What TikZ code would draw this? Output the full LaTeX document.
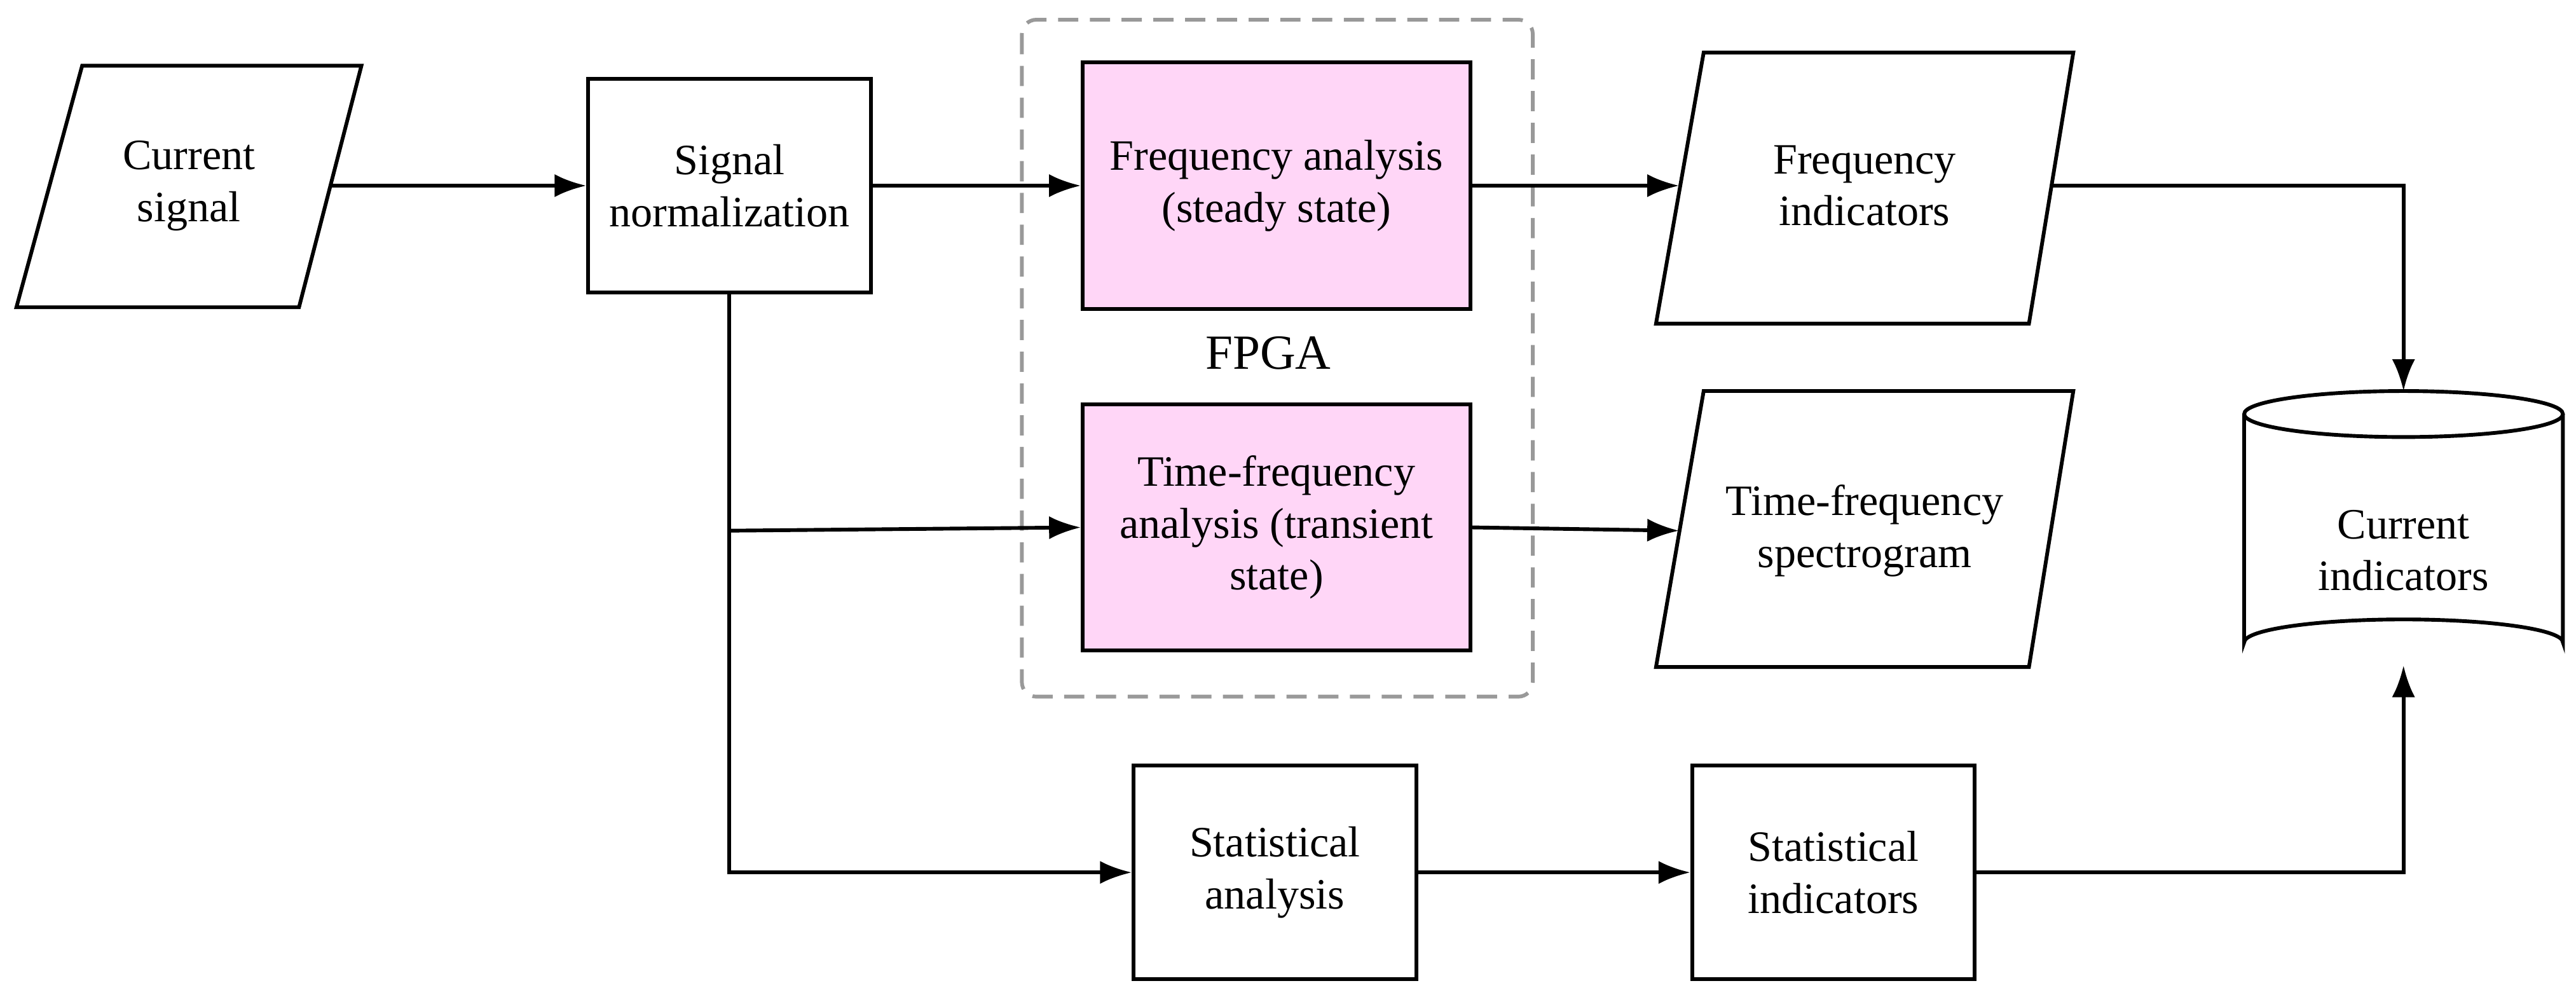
\documentclass[tikz,border=0pt]{standalone}
\usepackage{fontspec}
\setmainfont{Liberation Serif}
\usetikzlibrary{arrows.meta,shapes.geometric}
\definecolor{pinkf}{HTML}{FFD6F7}
\begin{document}
\begin{tikzpicture}[x=0.02cm,y=-0.02cm,
  every node/.style={font=\fontsize{15}{18}\selectfont,align=center},
  box/.style={draw,line width=1.3pt,minimum width=3.44cm,minimum height=2.6cm,inner sep=0pt},
  pbox/.style={box,fill=pinkf,minimum width=4.72cm,minimum height=3cm},
  shp/.style={draw,line width=1.3pt,line join=miter},
  arr/.style={line width=1.3pt,-{Latex[length=11pt,width=8pt]}},
  ln/.style={line width=1.3pt}]
\useasboundingbox (0,0) rectangle (1568,609.5);
% FPGA
\draw[gray!80,dashed,line width=1.3pt,dash pattern=on 7pt off 4pt,rounded corners=5pt] (622,12) rectangle (933,424);
\node (fpga) at (772,215) {\fontsize{17}{20}\selectfont FPGA};
% current signal
\draw[shp] (50,40) -- (220,40) -- (182,187) -- (10,187) -- cycle;
\node (cs) at (115,113) {Current\\signal};
\coordinate (csr) at (201,113);
\node[box] (sn) at (444,113) {Signal\\normalization};
\node[pbox] (fa) at (777,113) {Frequency analysis\\(steady state)};
\node[pbox] (tf) at (777,321) {Time-frequency\\analysis (transient\\state)};
\draw[shp] (1037,32) -- (1262,32) -- (1235,197) -- (1008,197) -- cycle;
\node (fi) at (1135,113) {Frequency\\indicators};
\coordinate (fil) at (1022,113);
\coordinate (fir) at (1249,113);
\draw[shp] (1037,238) -- (1262,238) -- (1235,406) -- (1008,406) -- cycle;
\node (ts) at (1135,323) {Time-frequency\\spectrogram};
\coordinate (tsl) at (1022,323);
\node[box] (sa) at (776,531) {Statistical\\analysis};
\node[box] (si) at (1116,531) {Statistical\\indicators};
% cylinder
\draw[shp,fill=white] (1366,252) -- (1366,391) arc[start angle=180,end angle=360,x radius=97,y radius=14] -- (1560,252);
\draw[shp] (1463,252) ellipse[x radius=97,y radius=14];
\node (ci) at (1463,335) {Current\\indicators};
\coordinate (cit) at (1463,238);
\coordinate (cib) at (1463,405);
% connectors
\draw[arr] (csr) -- (sn.west);
\draw[arr] (sn.east) -- (fa.west);
\draw[arr] (fa.east) -- (fil);
\draw[arr] (fir) -| (cit);
\draw[arr] (tf.east) -- (tsl);
\draw[arr] (sn.south) |- (sa.west);
\coordinate (br) at (444,323);
\draw[arr] (br) -- (tf.west);
\draw[arr] (sa.east) -- (si.west);
\draw[arr] (si.east) -| (cib);
\end{tikzpicture}
\end{document}
